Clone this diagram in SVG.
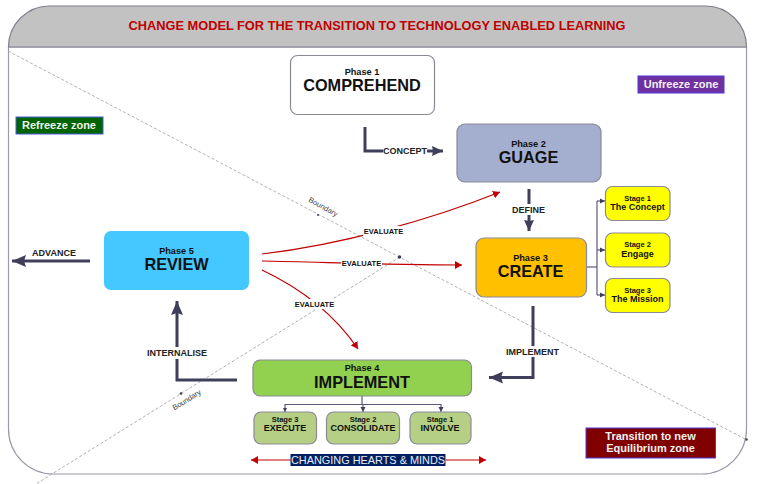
<svg xmlns="http://www.w3.org/2000/svg" width="757" height="484" viewBox="0 0 757 484">
<style>
text{font-family:"Liberation Sans",Arial,sans-serif;font-weight:bold;text-anchor:middle;fill:#111}
.ph{font-size:9.200px}.t{font-size:16.300px}.s{font-size:7.500px}.st{font-size:9px}
.lb{font-size:9px;fill:#222}.bd{font-size:7.500px;font-weight:normal;fill:#444}
.box{stroke:#8a8a96;stroke-width:1.200}
.thick{fill:none;stroke:#3f3f5c;stroke-width:3}
.thin{fill:none;stroke:#5a5a78;stroke-width:1.200}
.red{fill:none;stroke:#c00000;stroke-width:1.200}
.dash{fill:none;stroke:#a8a8a8;stroke-width:.9;stroke-dasharray:3 2}
.zone{font-size:11px;fill:#f2f2f2}
.bg{fill:#fff}
</style>
<defs>
<marker id="ah" markerUnits="userSpaceOnUse" markerWidth="15" markerHeight="13" refX="14" refY="6" orient="auto"><path d="M0 0L14 6L0 12L2 6Z" fill="#3f3f5c"/></marker>
<marker id="as" markerUnits="userSpaceOnUse" markerWidth="12" markerHeight="11" refX="11" refY="5" orient="auto"><path d="M0 0L11 5L0 10L1 5Z" fill="#3f3f5c"/></marker>
<marker id="ar" markerUnits="userSpaceOnUse" markerWidth="8" markerHeight="8" refX="7" refY="4" orient="auto"><path d="M0 0L7 4L0 8Z" fill="#c00000"/></marker>
<marker id="at" markerUnits="userSpaceOnUse" markerWidth="6" markerHeight="6" refX="5" refY="3" orient="auto"><path d="M0 .5L5 3L0 5.500Z" fill="#3f3f5c"/></marker>
</defs>
<rect width="757" height="484" fill="#fff"/>
<g id="frame">
<path d="M8.500 47V51V429A45 45 0 0 0 53.500 474H701.500A45 45 0 0 0 746.500 429V47Z" fill="#fff" stroke="#9a9aa8" stroke-width="1.200"/>
<path d="M8.500 47A41 41 0 0 1 49.500 6H705.500A41 41 0 0 1 746.500 47Z" fill="#c2c2c2" stroke="#7f7f8c" stroke-width="1.200"/>
<text x="377" y="30" font-size="12.800" style="fill:#c00000">CHANGE MODEL FOR THE TRANSITION TO TECHNOLOGY ENABLED LEARNING</text>
</g>
<g id="boundaries">
<path class="dash" d="M8 51L747 440"/>
<path class="dash" d="M400 257L36 484"/>
<circle cx="399.500" cy="257" r="1.800" fill="#3f3f5c"/>
<circle cx="318" cy="215" r="1" fill="#3f3f5c"/>
<circle cx="181" cy="393.500" r="1.300" fill="#3f3f5c"/>
<circle cx="746.500" cy="439.500" r="1.200" fill="#3f3f5c"/>
<text class="bd" transform="translate(322 209) rotate(29)" x="0" y="0">Boundary</text>
<text class="bd" transform="translate(188 402) rotate(-32)" x="0" y="0">Boundary</text>
</g>
<g id="connectors">
<path class="thick" d="M365 127V151H383"/>
<path class="thick" d="M427 151H443" marker-end="url(#as)"/>
<path class="thick" d="M529 189V204"/>
<path class="thick" d="M529 215V231" marker-end="url(#as)"/>
<path class="thick" d="M533 306V377.500H489" marker-end="url(#ah)"/>
<path class="thick" d="M237 380H177V301" marker-end="url(#ah)"/>
<path class="thick" d="M90 261H12" marker-end="url(#ah)"/>
<path class="red" d="M262 254C340 245 430 220 500 192" marker-end="url(#ar)"/>
<path class="red" d="M262 261C320 262 390 265 462 265" marker-end="url(#ar)"/>
<path class="red" d="M262 270C300 288 335 315 358 349" marker-end="url(#ar)"/>
<path class="red" d="M291 460H251" marker-end="url(#ar)"/>
<path class="red" d="M446 460H486" marker-end="url(#ar)"/>
<path class="thin" d="M587 267H597"/>
<path class="thin" d="M597 201V295"/>
<path class="thin" d="M597 201H605" marker-end="url(#at)"/>
<path class="thin" d="M597 250H605" marker-end="url(#at)"/>
<path class="thin" d="M597 295H605" marker-end="url(#at)"/>
<path class="thin" d="M362 396V404"/>
<path class="thin" d="M285 412V404.500H441V412" marker-end="url(#at)"/>
<path class="thin" d="M363 404V412" marker-end="url(#at)"/>
<path d="M285 412l-2-4h4Z" fill="#3f3f5c"/>
</g>
<g id="phase1"><rect class="box" x="290.500" y="55.500" width="144" height="59" rx="7" fill="#fff"/><text class="ph" x="362" y="75">Phase 1</text><text class="t" x="362" y="91">COMPREHEND</text></g>
<g id="phase2"><rect class="box" x="457" y="124" width="144" height="58" rx="8" fill="#a4aece"/><text class="ph" x="528.500" y="147">Phase 2</text><text class="t" x="528.500" y="163">GUAGE</text></g>
<g id="phase3"><rect class="box" x="476" y="238" width="110.500" height="59" rx="8" fill="#ffc000"/><text class="ph" x="530.500" y="261">Phase 3</text><text class="t" x="530.500" y="277">CREATE</text></g>
<g id="phase4"><rect class="box" x="253" y="360" width="218.500" height="36" rx="7" fill="#92d050"/><text class="ph" x="362" y="371">Phase 4</text><text class="t" x="362" y="388">IMPLEMENT</text></g>
<g id="phase5"><rect x="104" y="231" width="145" height="59" rx="7" fill="#45c8ff"/><text class="ph" x="176.500" y="254">Phase 5</text><text class="t" x="176.500" y="270">REVIEW</text></g>
<g id="stage-concept"><rect class="box" x="605.500" y="186.500" width="64.500" height="34" rx="7" fill="#ffff00"/><text class="s" x="637.500" y="201">Stage 1</text><text class="st" x="637.500" y="210">The Concept</text></g>
<g id="stage-engage"><rect class="box" x="605.500" y="233" width="64.500" height="34" rx="7" fill="#ffff00"/><text class="s" x="637.500" y="247">Stage 2</text><text class="st" x="637.500" y="257">Engage</text></g>
<g id="stage-mission"><rect class="box" x="605.500" y="278.500" width="64.500" height="34" rx="7" fill="#ffff00"/><text class="s" x="637.500" y="292.500">Stage 3</text><text class="st" x="637.500" y="301.500">The Mission</text></g>
<g id="stage-execute"><rect class="box" x="254" y="412" width="62.500" height="32" rx="7" fill="#b5cf85"/><text class="s" x="285" y="421.500">Stage 3</text><text class="st" x="285" y="431">EXECUTE</text></g>
<g id="stage-consolidate"><rect class="box" x="326.500" y="412" width="73" height="32" rx="7" fill="#b5cf85"/><text class="s" x="363" y="421.500">Stage 2</text><text class="st" x="363" y="431">CONSOLIDATE</text></g>
<g id="stage-involve"><rect class="box" x="410" y="412" width="61" height="32" rx="7" fill="#b5cf85"/><text class="s" x="440" y="421.500">Stage 1</text><text class="st" x="440" y="431">INVOLVE</text></g>
<g id="labels">
<text class="lb" x="405" y="153.500">CONCEPT</text>
<text class="lb" x="528.500" y="213">DEFINE</text>
<rect class="bg" x="505" y="346" width="55" height="11"/><text class="lb" x="532.500" y="355">IMPLEMENT</text>
<rect class="bg" x="145" y="347" width="64" height="12"/><text class="lb" x="177" y="356">INTERNALISE</text>
<text class="lb" x="54" y="256">ADVANCE</text>
<rect class="bg" x="363" y="226" width="41" height="10"/><text class="s" x="383.500" y="234">EVALUATE</text>
<rect class="bg" x="341" y="258" width="41" height="10"/><text class="s" x="361.500" y="266">EVALUATE</text>
<rect class="bg" x="294" y="299" width="41" height="10"/><text class="s" x="314.500" y="307">EVALUATE</text>
</g>
<g id="hearts"><rect x="290.500" y="454" width="155" height="12" fill="#002060"/><text x="368" y="463.500" font-size="10.900" style="font-weight:normal;fill:#e8ecf6">CHANGING HEARTS &amp; MINDS</text></g>
<g id="zone-refreeze"><rect x="16" y="117" width="87" height="17" fill="#006400" stroke="#4a5ad8"/><text class="zone" x="59" y="128.500">Refreeze zone</text></g>
<g id="zone-unfreeze"><rect x="638" y="76" width="86" height="17" fill="#7030a0" stroke="#4a3ad8"/><text class="zone" x="681" y="88">Unfreeze zone</text></g>
<g id="zone-equilibrium"><rect x="586" y="428" width="129.500" height="30" fill="#800000" stroke="#4a3ad8"/><text class="zone" x="650.500" y="440">Transition to new</text><text class="zone" x="650.500" y="452">Equilibrium zone</text></g>
</svg>
